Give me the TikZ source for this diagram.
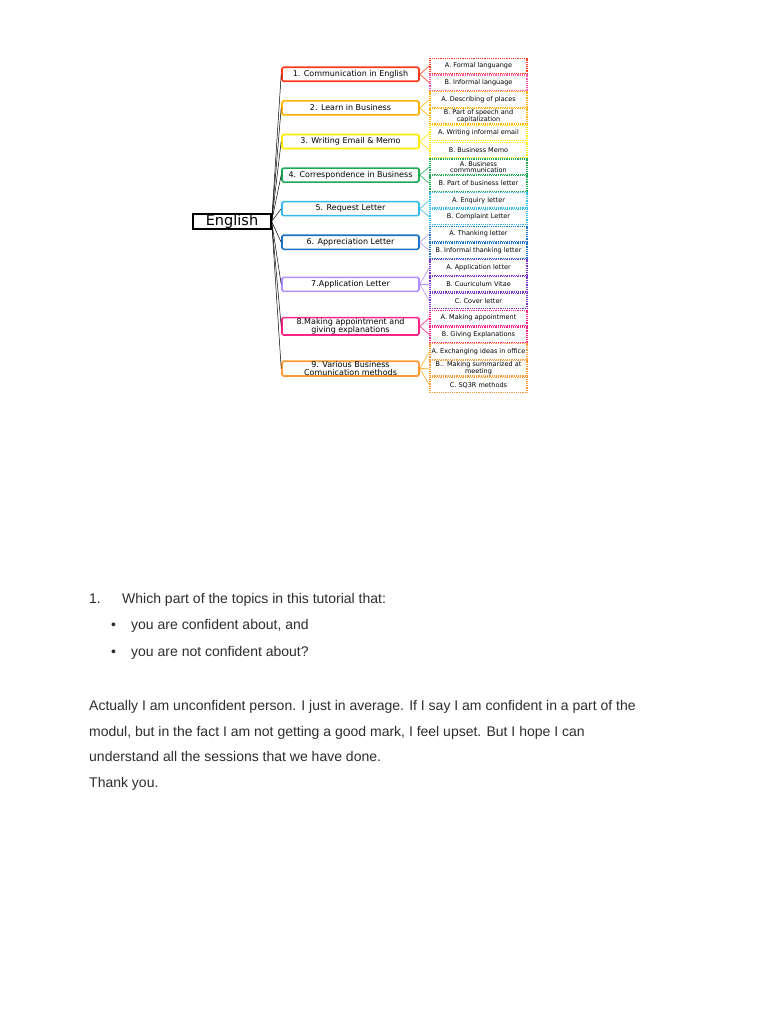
\documentclass[tikz,border=0pt]{standalone}
\usepackage{fontspec}
\setmainfont{Liberation Sans}
\newfontfamily\mapfont{DejaVu Sans}
\usetikzlibrary{positioning}

% Colours of the branches
\definecolor{brRed}{RGB}{255,59,26}
\definecolor{brPink}{RGB}{255,85,170}
\definecolor{brAmber}{RGB}{255,179,0}
\definecolor{brYellow}{RGB}{255,236,0}
\definecolor{brGreen}{RGB}{29,170,85}
\definecolor{brSky}{RGB}{51,187,238}
\definecolor{brBlue}{RGB}{26,115,200}
\definecolor{brLilac}{RGB}{179,140,255}
\definecolor{brPurple}{RGB}{123,53,204}
\definecolor{brMagenta}{RGB}{255,34,136}
\definecolor{brOrange}{RGB}{255,153,51}
\definecolor{bodytext}{RGB}{45,45,45}

\begin{document}
\begin{tikzpicture}[x=1pt, y=-1pt,
			% Define styles
			rootbox/.style={rectangle, draw=black, line width=1.3pt, minimum width=78pt, minimum height=15pt, inner sep=0pt, font=\mapfont\fontsize{14.5}{14.5}\selectfont},
			mainbox/.style={rectangle, draw=#1, line width=1.6pt, rounded corners=1.5pt, fill=white, minimum width=137pt, minimum height=14pt, inner sep=0.5pt, align=center, font=\mapfont\fontsize{8}{7.6}\selectfont},
			subbox/.style={rectangle, draw=#1, line width=1.2pt, densely dotted, fill=white, minimum width=97pt, minimum height=15.5pt, inner sep=0pt, align=center, font=\mapfont\fontsize{6.5}{6.2}\selectfont},
			trunk/.style={draw=black, line width=0.5pt},
			twig/.style={draw=#1, line width=0.6pt},
			para/.style={anchor=base west, inner sep=0pt, text=bodytext, font=\fontsize{14}{16}\selectfont}
			]
			
			% Page
			\useasboundingbox (0,0) rectangle (768,1024);
			
			% Root node
			\node[rootbox] (root) at (232,221.5) {English};
			
			% Main topics
			\node[mainbox=brRed] (m1) at (350.5,74.3) {1. Communication in English};
			\node[mainbox=brAmber] (m2) at (350.5,107.9) {2. Learn in Business};
			\node[mainbox=brYellow] (m3) at (350.5,141.5) {3. Writing Email \& Memo};
			\node[mainbox=brGreen] (m4) at (350.5,175.1) {4. Correspondence in Business};
			\node[mainbox=brSky] (m5) at (350.5,208.7) {5. Request Letter};
			\node[mainbox=brBlue] (m6) at (350.5,242.3) {6. Appreciation Letter};
			\node[mainbox=brLilac] (m7) at (350.5,284.3) {7.Application Letter};
			\node[mainbox=brMagenta] (m8) at (350.5,326.3) {8.Making appointment and\\giving explanations};
			\node[mainbox=brOrange] (m9) at (350.5,368.6) {9. Various Business\\Comunication methods};
			
			% Sub-topics
			\node[subbox=brRed] (s1a) at (478.5,65.9) {A. Formal languange};
			\node[subbox=brPink] (s1b) at (478.5,82.7) {B. Informal language};
			\node[subbox=brAmber] (s2a) at (478.5,99.5) {A. Describing of places};
			\node[subbox=brAmber] (s2b) at (478.5,116.3) {B. Part of speech and\\capitalization};
			\node[subbox=brYellow] (s3a) at (478.5,133.1) {A. Writing informal email};
			\node[subbox=brYellow] (s3b) at (478.5,149.9) {B. Business Memo};
			\node[subbox=brGreen] (s4a) at (478.5,166.7) {A. Business\\commmunication};
			\node[subbox=brGreen] (s4b) at (478.5,183.5) {B. Part of business letter};
			\node[subbox=brSky] (s5a) at (478.5,200.3) {A. Enquiry letter};
			\node[subbox=brSky] (s5b) at (478.5,217.1) {B. Complaint Letter};
			\node[subbox=brBlue] (s6a) at (478.5,233.9) {A. Thanking letter};
			\node[subbox=brBlue] (s6b) at (478.5,250.7) {B. Informal thanking letter};
			\node[subbox=brPurple] (s7a) at (478.5,267.5) {A. Application letter};
			\node[subbox=brPurple] (s7b) at (478.5,284.3) {B. Cuuriculum Vitae};
			\node[subbox=brPurple] (s7c) at (478.5,301.1) {C. Cover letter};
			\node[subbox=brMagenta] (s8a) at (478.5,317.9) {A. Making appointment};
			\node[subbox=brMagenta] (s8b) at (478.5,334.7) {B. Giving Explanations};
			\node[subbox=brOrange] (s9a) at (478.5,351.5) {A. Exchanging ideas in office};
			\node[subbox=brOrange] (s9b) at (478.5,368.3) {B.. Making summarized at\\meeting};
			\node[subbox=brOrange] (s9c) at (478.5,385.1) {C. SQ3R methods};
			
			% Connections from root to main topics
			\draw[trunk] (root.east) -- (m1.west);
			\draw[trunk] (root.east) -- (m2.west);
			\draw[trunk] (root.east) -- (m3.west);
			\draw[trunk] (root.east) -- (m4.west);
			\draw[trunk] (root.east) -- (m5.west);
			\draw[trunk] (root.east) -- (m6.west);
			\draw[trunk] (root.east) -- (m7.west);
			\draw[trunk] (root.east) -- (m8.west);
			\draw[trunk] (root.east) -- (m9.west);
			
			% Connections from main topics to sub-topics
			\draw[twig=brRed] (m1.east) -- (s1a.west);
			\draw[twig=brRed] (m1.east) -- (s1b.west);
			\draw[twig=brAmber] (m2.east) -- (s2a.west);
			\draw[twig=brAmber] (m2.east) -- (s2b.west);
			\draw[twig=brYellow] (m3.east) -- (s3a.west);
			\draw[twig=brYellow] (m3.east) -- (s3b.west);
			\draw[twig=brGreen] (m4.east) -- (s4a.west);
			\draw[twig=brGreen] (m4.east) -- (s4b.west);
			\draw[twig=brSky] (m5.east) -- (s5a.west);
			\draw[twig=brSky] (m5.east) -- (s5b.west);
			\draw[twig=brLilac] (m6.east) -- (s6a.west);
			\draw[twig=brLilac] (m6.east) -- (s6b.west);
			\draw[twig=brLilac] (m7.east) -- (s7a.west);
			\draw[twig=brLilac] (m7.east) -- (s7b.west);
			\draw[twig=brLilac] (m7.east) -- (s7c.west);
			\draw[twig=brMagenta] (m8.east) -- (s8a.west);
			\draw[twig=brMagenta] (m8.east) -- (s8b.west);
			\draw[twig=brOrange!80!yellow] (m9.east) -- (s9a.west);
			\draw[twig=brOrange!80!yellow] (m9.east) -- (s9b.west);
			\draw[twig=brOrange!80!yellow] (m9.east) -- (s9c.west);
			
			% Question and answer text
			\node[para] (qnum) at (89,603) {1.};
			\node[para] (qtext) at (122,603) {Which part of the topics in this tutorial that:};
			\node[para] (dot1) at (111,629.5) {\textbullet};
			\node[para] (item1) at (131,629.5) {you are confident about, and};
			\node[para] (dot2) at (111,656) {\textbullet};
			\node[para] (item2) at (131,656) {you are not confident about?};
			\node[para] (ans1) at (89,710) {Actually I am unconfident person. I just in average. If I say I am confident in a part of the};
			\node[para] (ans2) at (89,736) {modul, but in the fact I am not getting a good mark, I feel upset. But I hope I can};
			\node[para] (ans3) at (89,761.5) {understand all the sessions that we have done.};
			\node[para] (ans4) at (89,787) {Thank you.};
			
		\end{tikzpicture}
\end{document}
